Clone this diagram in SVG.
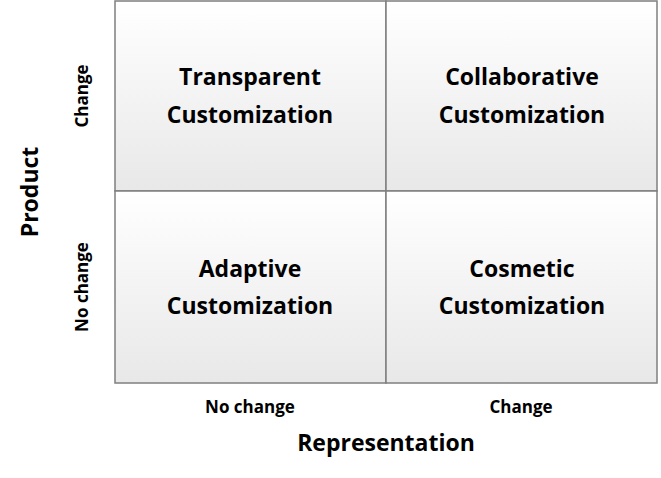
<svg xmlns="http://www.w3.org/2000/svg" width="661" height="478" viewBox="0 0 661 478">
<style>
.cell{stroke:#7f7f7f;stroke-width:1.5;fill:url(#g)}
.t{font-family:"Open Sans","Liberation Sans",sans-serif;font-weight:bold;font-size:23px;text-anchor:middle;fill:#000}
.s{font-family:"Open Sans","Liberation Sans",sans-serif;font-weight:bold;font-size:17px;text-anchor:middle;fill:#000}
.a{font-family:"Open Sans","Liberation Sans",sans-serif;font-weight:bold;font-size:23px;text-anchor:middle;fill:#000}
</style>
<defs><linearGradient id="g" x1="0" y1="0" x2="0" y2="1"><stop offset="0" stop-color="#ffffff"/><stop offset="1" stop-color="#e8e8e8"/></linearGradient></defs>
<g id="tl"><rect class="cell" x="115" y="1" width="271" height="190"/><text class="t" x="250" y="85">Transparent</text><text class="t" x="250" y="123">Customization</text></g>
<g id="tr"><rect class="cell" x="386" y="1" width="271" height="190"/><text class="t" x="522" y="85">Collaborative</text><text class="t" x="522" y="123">Customization</text></g>
<g id="bl"><rect class="cell" x="115" y="191" width="271" height="192"/><text class="t" x="250" y="277">Adaptive</text><text class="t" x="250" y="314">Customization</text></g>
<g id="br"><rect class="cell" x="386" y="191" width="271" height="192"/><text class="t" x="522" y="277">Cosmetic</text><text class="t" x="522" y="314">Customization</text></g>
<g id="labels">
<text class="s" x="250" y="413">No change</text>
<text class="s" x="521" y="413">Change</text>
<text class="a" x="386" y="451">Representation</text>
<text class="s" transform="translate(88,96) rotate(-90)">Change</text>
<text class="s" transform="translate(88,287) rotate(-90)">No change</text>
<text class="a" transform="translate(38,192) rotate(-90)">Product</text>
</g>
</svg>
